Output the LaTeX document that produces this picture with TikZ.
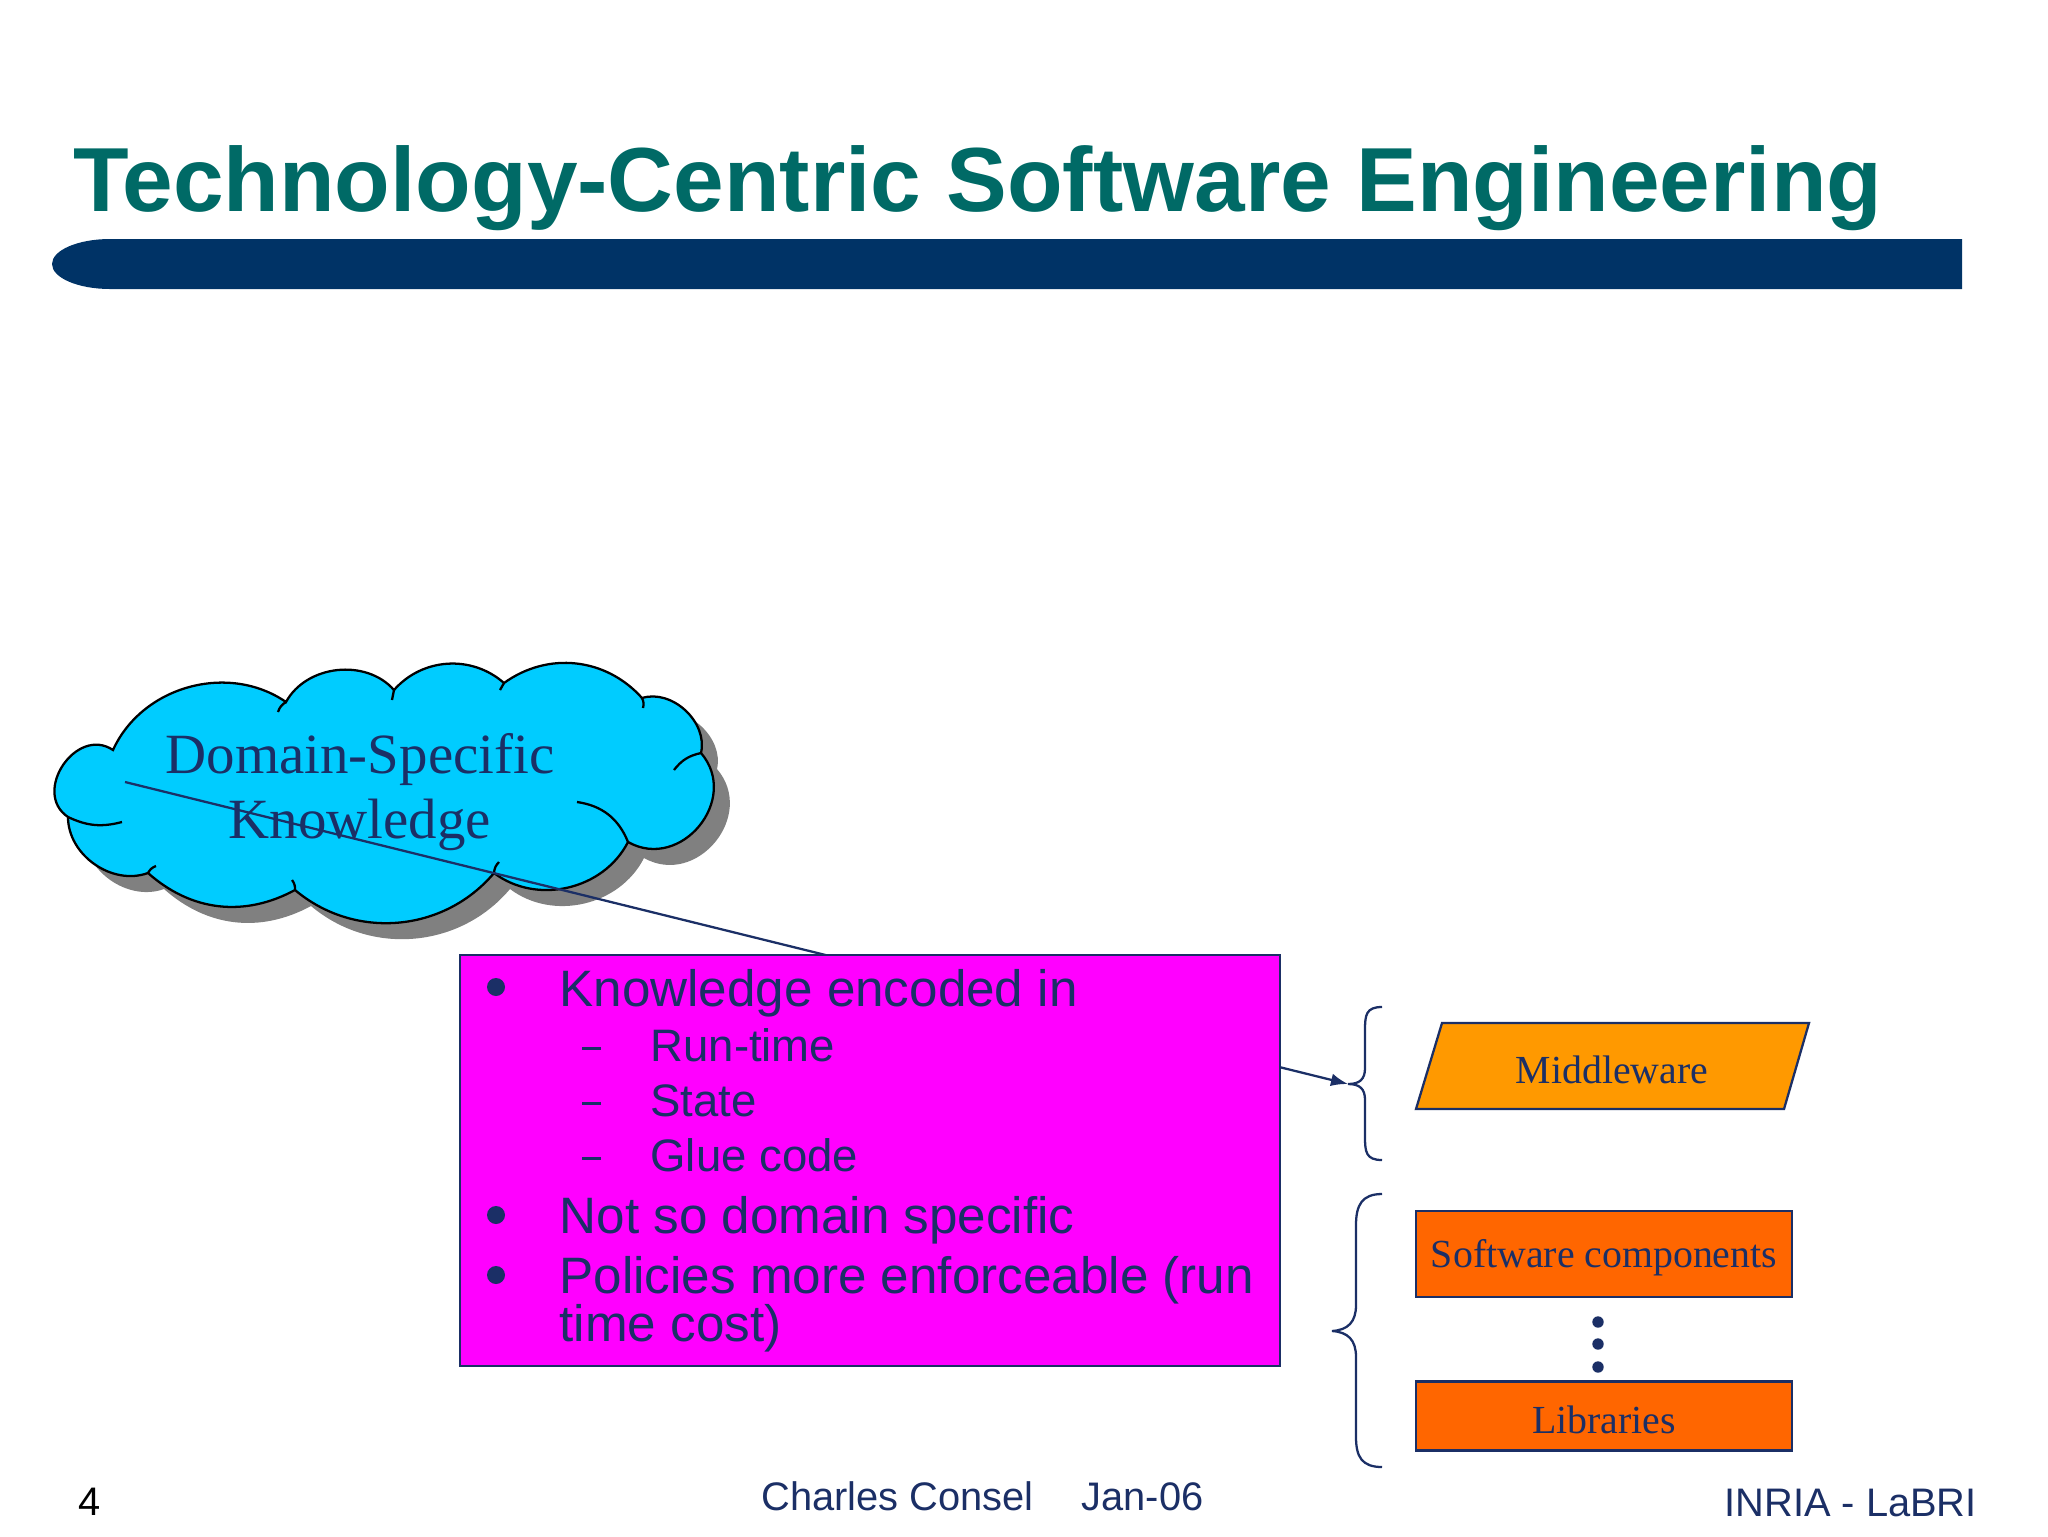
\documentclass[tikz,border=0pt]{standalone}
\usepackage{fontspec}
\setmainfont{Liberation Serif}
\setsansfont{Liberation Sans}
\usetikzlibrary{arrows.meta,positioning}
\definecolor{titleteal}{HTML}{006A66}
\definecolor{barblue}{HTML}{003366}
\definecolor{ink}{HTML}{1B2F66}
\definecolor{skyfill}{HTML}{00CCFF}
\definecolor{shadowgray}{HTML}{808080}
\definecolor{hotpink}{HTML}{FF00FF}
\definecolor{mwfill}{HTML}{FF9900}
\definecolor{libfill}{HTML}{FF6600}
% cloud outline, in slide pixels
\newcommand{\cloudpath}{(113,750) to[bend left=50] (286,702) to[bend left=55] (394,690)
  to[bend left=45] (504,683) to[bend left=42] (642,698) to[bend left=60] (701,753)
  to[bend left=80,looseness=1.35] (628,842) to[bend left=50] (494,873)
  to[bend left=45] (295,890) to[bend left=35] (148,873) to[bend left=55] (68,817)
  to[bend left=90,looseness=1.4] (113,750) -- cycle}
\tikzset{
  >=Latex,
  slidetitle/.style={font=\sffamily\bfseries\fontsize{32}{38}\selectfont,text=titleteal,anchor=base west,inner sep=0pt},
  cloudbody/.style={fill=skyfill,draw=black,line width=0.8pt},
  cloudshadow/.style={fill=shadowgray},
  crease/.style={draw=black,line width=0.8pt},
  cloudtext/.style={font=\fontsize{20}{23}\selectfont,text=ink,align=center,inner sep=0pt},
  kbox/.style={draw=ink,line width=0.7pt,fill=hotpink,minimum width=820*0.3516pt,minimum height=411*0.3516pt,inner sep=0pt},
  item/.style={font=\sffamily\fontsize{18}{21}\selectfont,text=ink,anchor=base west,inner sep=0pt},
  subitem/.style={font=\sffamily\fontsize{16}{19}\selectfont,text=ink,anchor=base west,inner sep=0pt},
  layer/.style={draw=ink,line width=0.8pt,fill=libfill,minimum width=376*0.3516pt,inner sep=0pt},
  layertext/.style={font=\fontsize{14}{17}\selectfont,text=ink,inner sep=0pt},
  mwshape/.style={draw=ink,line width=0.8pt,fill=mwfill},
  bracket/.style={draw=ink,line width=0.8pt},
  link/.style={draw=ink,line width=0.8pt,-{Latex[length=6pt,width=4.5pt]}},
  footer/.style={font=\sffamily\fontsize{14}{17}\selectfont,text=ink,anchor=base west,inner sep=0pt},
}
\begin{document}
\begin{tikzpicture}[x=0.3516pt,y=-0.3516pt]
\useasboundingbox (0,0) rectangle (2048,1536);

% Title and bar
\node[slidetitle] (title) at (73,211) {Technology-Centric Software Engineering};
\fill[barblue] (1962,239) -- (110,239) arc[start angle=270,end angle=90,x radius=58,y radius=25] -- (1962,289) -- cycle;

% Cloud
\path[cloudshadow,shift={(16,16)}] \cloudpath;
\path[cloudbody] \cloudpath;
\draw[crease] (68,817) to[bend right=20] (122,822);
\draw[crease] (577,802) to[bend left=30] (628,842);
\draw[crease] (674,770) to[bend left=20] (701,753);
\draw[crease] (286,702) to[bend right=20] (278,712);
\draw[crease] (394,690) to (392,700);
\draw[crease] (504,683) to (500,690);
\draw[crease] (642,698) to[bend left=20] (643,708);
\draw[crease] (148,873) to[bend left=20] (156,866);
\draw[crease] (295,890) to[bend right=20] (292,880);
\draw[crease] (494,873) to[bend left=20] (499,862);
\node[cloudtext] (dsk) at (360,792) {Domain-Specific\\Knowledge};

% Connector, runs under the box
\coordinate (dskfrom) at (125,782);
\coordinate (mwtip) at (1348,1084);
\draw[link] (dskfrom) -- (mwtip);

% Knowledge box
\node[kbox] (kb) at (870,1160.5) {};
\foreach \y in {987,1215,1275} {\fill[ink] (496,\y) circle (9);}
\foreach \y in {1047,1102,1157} {\fill[ink] (582,\y) rectangle (601,\y+2.5);}
\node[item] (k1) at (559,1006) {Knowledge encoded in};
\node[subitem] (k1a) at (650,1061) {Run-time};
\node[subitem] (k1b) at (650,1116) {State};
\node[subitem] (k1c) at (650,1171) {Glue code};
\node[item] (k2) at (559,1233) {Not so domain specific};
\node[item] (k3) at (559,1293) {Policies more enforceable (run};
\node[item] (k3b) at (559,1341) {time cost)};

% Braces
\draw[bracket] (1382,1007) .. controls (1366,1007) and (1365,1015) .. (1365,1030) -- (1365,1068)
  .. controls (1365,1079) and (1360,1084) .. (mwtip) .. controls (1360,1084) and (1365,1089) .. (1365,1100)
  -- (1365,1137) .. controls (1365,1152) and (1366,1160) .. (1382,1160);
\draw[bracket] (1382,1194) .. controls (1362,1194) and (1356,1205) .. (1356,1225) -- (1356,1305)
  .. controls (1356,1322) and (1348,1330) .. (1332,1331) .. controls (1348,1332) and (1356,1340) .. (1356,1357)
  -- (1356,1437) .. controls (1356,1457) and (1362,1467) .. (1382,1467);

% Layers
\path[mwshape] (1442,1023) -- (1809,1023) -- (1784,1109) -- (1416,1109) -- cycle;
\node[layertext] (mw) at (1612,1070) {Middleware};
\node[layer,minimum height=86*0.3516pt] (sc) at (1604,1254) {};
\node[layertext] (sctext) at (1604,1258) {Software components};
\node[layer,minimum height=69*0.3516pt] (lib) at (1604,1416) {};
\node[layertext] (libtext) at (1604,1420) {Libraries};
\foreach \y in {1322,1344,1367} {\fill[ink] (1598,\y) circle (5.7);}

% Footer
\node[footer,text=black] (pg) at (78,1515) {4};
\node[footer] (auth) at (761,1510) {Charles Consel};
\node[footer] (date) at (1081,1510) {Jan-06};
\node[footer] (inst) at (1724,1516) {INRIA - LaBRI};

\end{tikzpicture}
\end{document}
